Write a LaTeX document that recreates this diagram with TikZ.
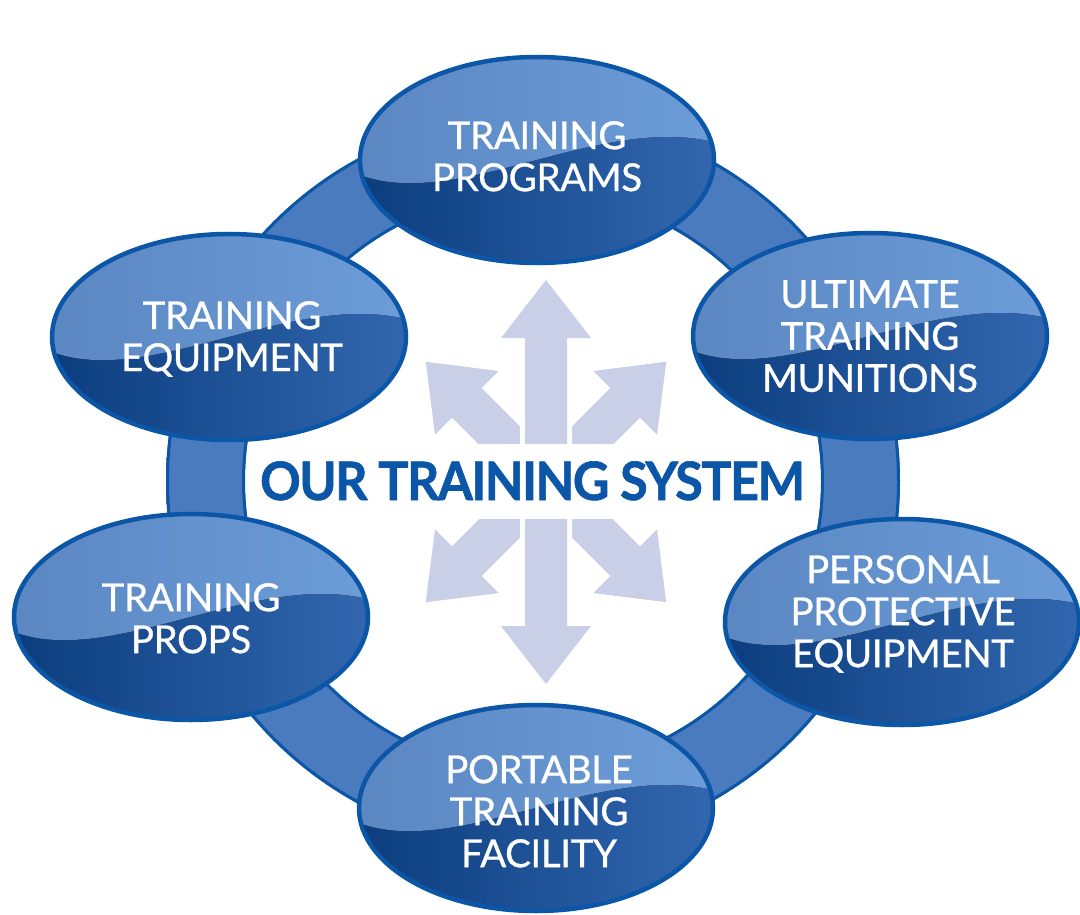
\documentclass[tikz,border=0pt]{standalone}
\usepackage{fontspec}
\setmainfont{Lato}
\newfontfamily\lblfont{Lato}[FakeBold=0.8,LetterSpace=-1]
\usetikzlibrary{shapes.geometric}
\definecolor{bord}{HTML}{0B56A7}
\definecolor{ringL}{HTML}{4A7BBF}
\definecolor{ringD}{HTML}{2158A6}
\definecolor{glL}{HTML}{5A86C1}
\definecolor{glR}{HTML}{6D9EDA}
\definecolor{botL}{HTML}{0B3D7E}
\definecolor{botM}{HTML}{1552A0}
\definecolor{botR}{HTML}{3267AF}
\definecolor{lav}{HTML}{C9CFE7}
\pgfdeclareradialshading{ringshade}{\pgfpoint{0bp}{0bp}}{color(0bp)=(ringL); color(43bp)=(ringL); color(50bp)=(ringD)}
\begin{document}
\begin{tikzpicture}[x=1pt,y=-1pt,
  bubble/.style={ellipse, minimum width=354pt, minimum height=206pt, inner sep=0pt,
    draw=bord, line width=4.5pt, left color=botL, middle color=botM, right color=botR,
    path picture={
      \begin{scope}[shift={(path picture bounding box.center)}, x=178pt, y=104pt]
        \fill[left color=glL, right color=glR]
          (-1.1,-0.14) -- (-1.0,-0.14) .. controls (-0.45,-0.5) and (0.35,0.45) .. (1.0,0.17)
          -- (1.1,0.17) -- (1.1,1.1) -- (-1.1,1.1) -- cycle;
      \end{scope}}},
  lbl/.style={text=white, font=\lblfont\fontsize{38.5}{42}\selectfont, align=center, inner sep=0pt, anchor=north}]
\useasboundingbox (0,0) rectangle (1080,915);
% ring
\shade[shading=ringshade] (533,481) circle[radius=367];
\fill[white] (533,481) circle[radius=288];
\draw[bord, line width=3] (533,481) circle[radius=365.5];
\draw[bord, line width=3] (533,481) circle[radius=289.5];
% arrows
\foreach \a in {45,135,225,315}
  \fill[lav, shift={(546,482)}, rotate=\a] (170,0) -- (112,45) -- (112,21) -- (0,21) -- (0,-21) -- (112,-21) -- (112,-45) -- cycle;
\foreach \a in {90,270}
  \path[fill=lav, preaction={draw=white, line width=10}, shift={(546,482)}, rotate=\a]
    (202,0) -- (144,45) -- (144,21) -- (0,21) -- (0,-21) -- (144,-21) -- (144,-45) -- cycle;
\fill[white] (405,444) rectangle (690,519);
\node[font=\fontsize{53}{53}\selectfont\bfseries\addfontfeatures{FakeBold=1.2,LetterSpace=-3}, text=bord, anchor=base, inner sep=0pt] (sys) at (532.5,500) {\scalebox{0.95}[1]{OUR TRAINING SYSTEM}};
% bubbles
\node[bubble] (tp) at (537,160) {};
\node[bubble] (te) at (229,337) {};
\node[bubble] (utm) at (870,336) {};
\node[bubble] (ppe) at (902,622) {};
\node[bubble] (ptf) at (536,808) {};
\node[bubble] (tpr) at (191,617) {};
\node[lbl] (tpT) at (537,121) {TRAINING\\PROGRAMS};
\node[lbl] (teT) at (232,301) {TRAINING\\EQUIPMENT};
\node[lbl] (utmT) at (870,280) {ULTIMATE\\TRAINING\\MUNITIONS};
\node[lbl] (ppeT) at (903,555) {PERSONAL\\PROTECTIVE\\EQUIPMENT};
\node[lbl] (ptfT) at (539,755) {PORTABLE\\TRAINING\\FACILITY};
\node[lbl] (tprT) at (191,583) {TRAINING\\PROPS};
\end{tikzpicture}
\end{document}
